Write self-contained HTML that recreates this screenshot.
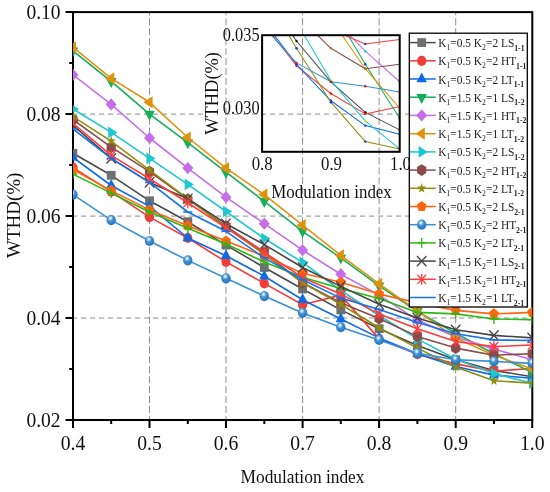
<!DOCTYPE html><html><head><meta charset="utf-8"><title>WTHD chart</title><style>html,body{margin:0;padding:0;background:#fff}svg{display:block}</style></head><body><svg width="550" height="492" viewBox="0 0 550 492" font-family="'Liberation Serif', serif" fill="#111">
<defs><radialGradient id="ball" cx="0.42" cy="0.32" r="0.62"><stop offset="0" stop-color="#ffffff"/><stop offset="0.16" stop-color="#c4e0f5"/><stop offset="0.45" stop-color="#4394d6"/><stop offset="1" stop-color="#2877bd"/></radialGradient>
<clipPath id="cm"><rect x="73.0" y="12.1" width="459.3" height="407.9"/></clipPath>
<clipPath id="ci"><rect x="262.1" y="35.2" width="137.6" height="116.6"/></clipPath></defs>
<rect width="550" height="492" fill="#fff"/>
<g stroke="#8f8f8f" stroke-width="1" fill="none"><path d="M149.5 420.0V12.1" stroke-dasharray="7 2.94" stroke-dashoffset="2.9"/><path d="M226.0 420.0V12.1" stroke-dasharray="7 2.94" stroke-dashoffset="2.9"/><path d="M302.6 420.0V12.1" stroke-dasharray="7 2.94" stroke-dashoffset="2.9"/><path d="M379.1 420.0V12.1" stroke-dasharray="7 2.94" stroke-dashoffset="2.9"/><path d="M455.7 420.0V12.1" stroke-dasharray="7 2.94" stroke-dashoffset="2.9"/><path d="M72.0 318.0H532.2" stroke-dasharray="5.2 3.8"/><path d="M72.0 216.1H532.2" stroke-dasharray="5.2 3.8"/><path d="M72.0 114.1H532.2" stroke-dasharray="5.2 3.8"/></g>
<g stroke="#000" stroke-width="2" fill="none">
<rect x="73.0" y="12.1" width="459.3" height="407.9"/>
<path d="M73.0 420.0V428.0M111.2 420.0V424.0M149.5 420.0V428.0M187.8 420.0V424.0M226.0 420.0V428.0M264.3 420.0V424.0M302.6 420.0V428.0M340.8 420.0V424.0M379.1 420.0V428.0M417.4 420.0V424.0M455.7 420.0V428.0M493.9 420.0V424.0M532.2 420.0V428.0M73.0 420.0H65.5M73.0 369.0H69.2M73.0 318.0H65.5M73.0 267.0H69.2M73.0 216.1H65.5M73.0 165.1H69.2M73.0 114.1H65.5M73.0 63.1H69.2M73.0 12.1H65.5"/>
</g>
<g clip-path="url(#cm)">
<polyline points="73.0,153.3 111.2,175.3 149.5,200.8 187.8,221.7 226.0,245.1 264.3,267.5 302.6,289.0 340.8,309.9 379.1,328.7 417.4,345.6 455.7,359.8 493.9,370.5 532.2,376.7" fill="none" stroke="#4a4a4a" stroke-width="1.6" stroke-linejoin="round"/>
<rect x="68.5" y="148.9" width="8.8" height="8.8" fill="#6f6f6f"/>
<rect x="106.8" y="170.9" width="8.8" height="8.8" fill="#6f6f6f"/>
<rect x="145.1" y="196.4" width="8.8" height="8.8" fill="#6f6f6f"/>
<rect x="183.4" y="217.3" width="8.8" height="8.8" fill="#6f6f6f"/>
<rect x="221.6" y="240.7" width="8.8" height="8.8" fill="#6f6f6f"/>
<rect x="259.9" y="263.1" width="8.8" height="8.8" fill="#6f6f6f"/>
<rect x="298.2" y="284.6" width="8.8" height="8.8" fill="#6f6f6f"/>
<rect x="336.4" y="305.5" width="8.8" height="8.8" fill="#6f6f6f"/>
<rect x="374.7" y="324.3" width="8.8" height="8.8" fill="#6f6f6f"/>
<rect x="413.0" y="341.2" width="8.8" height="8.8" fill="#6f6f6f"/>
<rect x="451.3" y="355.4" width="8.8" height="8.8" fill="#6f6f6f"/>
<rect x="489.5" y="366.1" width="8.8" height="8.8" fill="#6f6f6f"/>
<rect x="527.8" y="372.3" width="8.8" height="8.8" fill="#6f6f6f"/>
<polyline points="73.0,167.6 111.2,191.6 149.5,217.1 187.8,238.0 226.0,261.9 264.3,283.4 302.6,304.8 340.8,295.1 379.1,338.9 417.4,354.2 455.7,363.9 493.9,371.1 532.2,368.5" fill="none" stroke="#f23c38" stroke-width="1.6" stroke-linejoin="round"/>
<ellipse cx="73.0" cy="167.6" rx="4.6" ry="5.1" fill="#f23c38"/>
<ellipse cx="111.2" cy="191.6" rx="4.6" ry="5.1" fill="#f23c38"/>
<ellipse cx="149.5" cy="217.1" rx="4.6" ry="5.1" fill="#f23c38"/>
<ellipse cx="187.8" cy="238.0" rx="4.6" ry="5.1" fill="#f23c38"/>
<ellipse cx="226.0" cy="261.9" rx="4.6" ry="5.1" fill="#f23c38"/>
<ellipse cx="264.3" cy="283.4" rx="4.6" ry="5.1" fill="#f23c38"/>
<ellipse cx="302.6" cy="304.8" rx="4.6" ry="5.1" fill="#f23c38"/>
<ellipse cx="340.8" cy="295.1" rx="4.6" ry="5.1" fill="#f23c38"/>
<ellipse cx="379.1" cy="338.9" rx="4.6" ry="5.1" fill="#f23c38"/>
<ellipse cx="417.4" cy="354.2" rx="4.6" ry="5.1" fill="#f23c38"/>
<ellipse cx="455.7" cy="363.9" rx="4.6" ry="5.1" fill="#f23c38"/>
<ellipse cx="493.9" cy="371.1" rx="4.6" ry="5.1" fill="#f23c38"/>
<ellipse cx="532.2" cy="368.5" rx="4.6" ry="5.1" fill="#f23c38"/>
<polyline points="73.0,157.4 111.2,185.5 149.5,206.4 187.8,238.0 226.0,255.8 264.3,276.2 302.6,299.7 340.8,319.0 379.1,337.9 417.4,353.7 455.7,366.5 493.9,375.1 532.2,378.2" fill="none" stroke="#0f6ae6" stroke-width="1.6" stroke-linejoin="round"/>
<polygon points="67.8,160.7 78.2,160.7 73.0,150.9" fill="#0f6ae6"/>
<polygon points="106.0,188.7 116.4,188.7 111.2,178.9" fill="#0f6ae6"/>
<polygon points="144.3,209.6 154.7,209.6 149.5,199.8" fill="#0f6ae6"/>
<polygon points="182.6,241.2 193.0,241.2 187.8,231.4" fill="#0f6ae6"/>
<polygon points="220.8,259.1 231.2,259.1 226.0,249.3" fill="#0f6ae6"/>
<polygon points="259.1,279.5 269.5,279.5 264.3,269.7" fill="#0f6ae6"/>
<polygon points="297.4,302.9 307.8,302.9 302.6,293.1" fill="#0f6ae6"/>
<polygon points="335.6,322.3 346.0,322.3 340.8,312.5" fill="#0f6ae6"/>
<polygon points="373.9,341.2 384.3,341.2 379.1,331.4" fill="#0f6ae6"/>
<polygon points="412.2,357.0 422.6,357.0 417.4,347.2" fill="#0f6ae6"/>
<polygon points="450.5,369.7 460.9,369.7 455.7,359.9" fill="#0f6ae6"/>
<polygon points="488.7,378.4 499.1,378.4 493.9,368.6" fill="#0f6ae6"/>
<polygon points="527.0,381.5 537.4,381.5 532.2,371.7" fill="#0f6ae6"/>
<polyline points="73.0,50.9 111.2,81.4 149.5,114.1 187.8,142.6 226.0,172.2 264.3,201.3 302.6,231.3 340.8,257.9 379.1,285.9 417.4,311.4 455.7,333.3 493.9,353.7 532.2,372.6" fill="none" stroke="#14ae5c" stroke-width="1.6" stroke-linejoin="round"/>
<polygon points="67.7,47.5 78.2,47.5 73.0,57.5" fill="#14ae5c"/>
<polygon points="105.9,78.1 116.5,78.1 111.2,88.1" fill="#14ae5c"/>
<polygon points="144.2,110.7 154.8,110.7 149.5,120.7" fill="#14ae5c"/>
<polygon points="182.5,139.3 193.1,139.3 187.8,149.3" fill="#14ae5c"/>
<polygon points="220.7,168.9 231.3,168.9 226.0,178.9" fill="#14ae5c"/>
<polygon points="259.0,197.9 269.6,197.9 264.3,207.9" fill="#14ae5c"/>
<polygon points="297.3,228.0 307.9,228.0 302.6,238.0" fill="#14ae5c"/>
<polygon points="335.5,254.5 346.1,254.5 340.8,264.5" fill="#14ae5c"/>
<polygon points="373.8,282.6 384.4,282.6 379.1,292.6" fill="#14ae5c"/>
<polygon points="412.1,308.1 422.7,308.1 417.4,318.1" fill="#14ae5c"/>
<polygon points="450.4,330.0 461.0,330.0 455.7,340.0" fill="#14ae5c"/>
<polygon points="488.6,350.4 499.2,350.4 493.9,360.4" fill="#14ae5c"/>
<polygon points="526.9,369.2 537.5,369.2 532.2,379.2" fill="#14ae5c"/>
<polyline points="73.0,74.8 111.2,104.4 149.5,138.0 187.8,168.1 226.0,197.2 264.3,223.7 302.6,250.2 340.8,274.2 379.1,295.1 417.4,320.1 455.7,336.9 493.9,349.1 532.2,359.8" fill="none" stroke="#c46ee8" stroke-width="1.6" stroke-linejoin="round"/>
<polygon points="67.5,74.8 73.0,68.7 78.5,74.8 73.0,80.9" fill="#c46ee8"/>
<polygon points="105.7,104.4 111.2,98.3 116.7,104.4 111.2,110.5" fill="#c46ee8"/>
<polygon points="144.0,138.0 149.5,131.9 155.0,138.0 149.5,144.1" fill="#c46ee8"/>
<polygon points="182.3,168.1 187.8,162.0 193.3,168.1 187.8,174.2" fill="#c46ee8"/>
<polygon points="220.5,197.2 226.0,191.1 231.5,197.2 226.0,203.3" fill="#c46ee8"/>
<polygon points="258.8,223.7 264.3,217.6 269.8,223.7 264.3,229.8" fill="#c46ee8"/>
<polygon points="297.1,250.2 302.6,244.1 308.1,250.2 302.6,256.3" fill="#c46ee8"/>
<polygon points="335.3,274.2 340.8,268.1 346.3,274.2 340.8,280.3" fill="#c46ee8"/>
<polygon points="373.6,295.1 379.1,289.0 384.6,295.1 379.1,301.2" fill="#c46ee8"/>
<polygon points="411.9,320.1 417.4,314.0 422.9,320.1 417.4,326.2" fill="#c46ee8"/>
<polygon points="450.2,336.9 455.7,330.8 461.2,336.9 455.7,343.0" fill="#c46ee8"/>
<polygon points="488.4,349.1 493.9,343.0 499.4,349.1 493.9,355.2" fill="#c46ee8"/>
<polygon points="526.7,359.8 532.2,353.7 537.7,359.8 532.2,365.9" fill="#c46ee8"/>
<polyline points="73.0,47.3 111.2,78.4 149.5,102.3 187.8,137.5 226.0,168.1 264.3,194.6 302.6,225.2 340.8,255.3 379.1,283.9 417.4,310.9 455.7,337.9 493.9,355.2 532.2,369.0" fill="none" stroke="#e0920c" stroke-width="1.6" stroke-linejoin="round"/>
<polygon points="76.0,41.2 76.0,53.4 66.8,47.3" fill="#e0920c"/>
<polygon points="114.3,72.3 114.3,84.5 105.1,78.4" fill="#e0920c"/>
<polygon points="152.6,96.2 152.6,108.4 143.4,102.3" fill="#e0920c"/>
<polygon points="190.8,131.4 190.8,143.6 181.6,137.5" fill="#e0920c"/>
<polygon points="229.1,162.0 229.1,174.2 219.9,168.1" fill="#e0920c"/>
<polygon points="267.4,188.5 267.4,200.7 258.2,194.6" fill="#e0920c"/>
<polygon points="305.6,219.1 305.6,231.3 296.4,225.2" fill="#e0920c"/>
<polygon points="343.9,249.2 343.9,261.4 334.7,255.3" fill="#e0920c"/>
<polygon points="382.2,277.8 382.2,290.0 373.0,283.9" fill="#e0920c"/>
<polygon points="420.5,304.8 420.5,317.0 411.3,310.9" fill="#e0920c"/>
<polygon points="458.7,331.8 458.7,344.0 449.5,337.9" fill="#e0920c"/>
<polygon points="497.0,349.1 497.0,361.3 487.8,355.2" fill="#e0920c"/>
<polygon points="535.3,362.9 535.3,375.1 526.1,369.0" fill="#e0920c"/>
<polyline points="73.0,109.0 111.2,132.4 149.5,158.4 187.8,184.4 226.0,211.5 264.3,238.5 302.6,262.4 340.8,290.5 379.1,315.5 417.4,338.9 455.7,359.3 493.9,373.6 532.2,383.3" fill="none" stroke="#1ec8cc" stroke-width="1.6" stroke-linejoin="round"/>
<polygon points="69.9,103.2 69.9,114.8 79.1,109.0" fill="#1ec8cc"/>
<polygon points="108.2,126.6 108.2,138.2 117.4,132.4" fill="#1ec8cc"/>
<polygon points="146.4,152.6 146.4,164.2 155.6,158.4" fill="#1ec8cc"/>
<polygon points="184.7,178.6 184.7,190.2 193.9,184.4" fill="#1ec8cc"/>
<polygon points="223.0,205.7 223.0,217.3 232.2,211.5" fill="#1ec8cc"/>
<polygon points="261.2,232.7 261.2,244.3 270.4,238.5" fill="#1ec8cc"/>
<polygon points="299.5,256.6 299.5,268.2 308.7,262.4" fill="#1ec8cc"/>
<polygon points="337.8,284.7 337.8,296.3 347.0,290.5" fill="#1ec8cc"/>
<polygon points="376.1,309.7 376.1,321.3 385.3,315.5" fill="#1ec8cc"/>
<polygon points="414.3,333.1 414.3,344.7 423.5,338.9" fill="#1ec8cc"/>
<polygon points="452.6,353.5 452.6,365.1 461.8,359.3" fill="#1ec8cc"/>
<polygon points="490.9,367.8 490.9,379.4 500.1,373.6" fill="#1ec8cc"/>
<polygon points="529.1,377.5 529.1,389.1 538.3,383.3" fill="#1ec8cc"/>
<polyline points="73.0,119.7 111.2,147.2 149.5,171.7 187.8,199.2 226.0,226.2 264.3,252.3 302.6,282.8 340.8,302.7 379.1,318.5 417.4,336.4 455.7,348.1 493.9,355.2 532.2,353.7" fill="none" stroke="#8b4b4b" stroke-width="1.6" stroke-linejoin="round"/>
<polygon points="73.0,113.8 77.5,116.7 77.5,122.6 73.0,125.6 68.4,122.6 68.4,116.7" fill="#8b4b4b"/>
<polygon points="111.2,141.3 115.8,144.3 115.8,150.2 111.2,153.1 106.6,150.2 106.6,144.3" fill="#8b4b4b"/>
<polygon points="149.5,165.8 154.1,168.7 154.1,174.6 149.5,177.6 144.9,174.6 144.9,168.7" fill="#8b4b4b"/>
<polygon points="187.8,193.3 192.4,196.3 192.4,202.2 187.8,205.1 183.2,202.2 183.2,196.3" fill="#8b4b4b"/>
<polygon points="226.0,220.3 230.6,223.3 230.6,229.2 226.0,232.1 221.4,229.2 221.4,223.3" fill="#8b4b4b"/>
<polygon points="264.3,246.4 268.9,249.3 268.9,255.2 264.3,258.2 259.7,255.2 259.7,249.3" fill="#8b4b4b"/>
<polygon points="302.6,276.9 307.2,279.9 307.2,285.8 302.6,288.7 298.0,285.8 298.0,279.9" fill="#8b4b4b"/>
<polygon points="340.8,296.8 345.4,299.8 345.4,305.7 340.8,308.6 336.2,305.7 336.2,299.8" fill="#8b4b4b"/>
<polygon points="379.1,312.6 383.7,315.6 383.7,321.5 379.1,324.4 374.5,321.5 374.5,315.6" fill="#8b4b4b"/>
<polygon points="417.4,330.5 422.0,333.4 422.0,339.3 417.4,342.3 412.8,339.3 412.8,333.4" fill="#8b4b4b"/>
<polygon points="455.7,342.2 460.3,345.2 460.3,351.1 455.7,354.0 451.1,351.1 451.1,345.2" fill="#8b4b4b"/>
<polygon points="493.9,349.3 498.5,352.3 498.5,358.2 493.9,361.1 489.3,358.2 489.3,352.3" fill="#8b4b4b"/>
<polygon points="532.2,347.8 536.8,350.8 536.8,356.7 532.2,359.6 527.6,356.7 527.6,350.8" fill="#8b4b4b"/>
<polyline points="73.0,116.6 111.2,141.1 149.5,170.2 187.8,198.7 226.0,227.3 264.3,254.3 302.6,282.8 340.8,304.3 379.1,327.7 417.4,348.1 455.7,367.0 493.9,380.7 532.2,383.3" fill="none" stroke="#8f8c0c" stroke-width="1.6" stroke-linejoin="round"/>
<polygon points="73.0,111.2 74.1,114.8 77.4,115.0 74.8,117.3 75.7,121.0 73.0,118.8 70.2,121.0 71.1,117.3 68.5,115.0 71.8,114.8" fill="#8f8c0c"/>
<polygon points="111.2,135.7 112.3,139.3 115.7,139.4 113.0,141.8 114.0,145.5 111.2,143.3 108.5,145.5 109.4,141.8 106.8,139.4 110.1,139.3" fill="#8f8c0c"/>
<polygon points="149.5,164.8 150.6,168.4 154.0,168.5 151.3,170.8 152.3,174.5 149.5,172.4 146.7,174.5 147.7,170.8 145.0,168.5 148.4,168.4" fill="#8f8c0c"/>
<polygon points="187.8,193.3 188.9,196.9 192.2,197.0 189.6,199.4 190.5,203.1 187.8,200.9 185.0,203.1 185.9,199.4 183.3,197.0 186.6,196.9" fill="#8f8c0c"/>
<polygon points="226.0,221.9 227.2,225.5 230.5,225.6 227.9,227.9 228.8,231.6 226.0,229.5 223.3,231.6 224.2,227.9 221.6,225.6 224.9,225.5" fill="#8f8c0c"/>
<polygon points="264.3,248.9 265.4,252.5 268.8,252.6 266.1,255.0 267.1,258.7 264.3,256.5 261.5,258.7 262.5,255.0 259.8,252.6 263.2,252.5" fill="#8f8c0c"/>
<polygon points="302.6,277.4 303.7,281.1 307.0,281.2 304.4,283.5 305.3,287.2 302.6,285.0 299.8,287.2 300.8,283.5 298.1,281.2 301.4,281.1" fill="#8f8c0c"/>
<polygon points="340.8,298.9 342.0,302.5 345.3,302.6 342.7,304.9 343.6,308.6 340.8,306.5 338.1,308.6 339.0,304.9 336.4,302.6 339.7,302.5" fill="#8f8c0c"/>
<polygon points="379.1,322.3 380.2,325.9 383.6,326.0 380.9,328.4 381.9,332.1 379.1,329.9 376.4,332.1 377.3,328.4 374.6,326.0 378.0,325.9" fill="#8f8c0c"/>
<polygon points="417.4,342.7 418.5,346.3 421.9,346.4 419.2,348.8 420.1,352.5 417.4,350.3 414.6,352.5 415.6,348.8 412.9,346.4 416.3,346.3" fill="#8f8c0c"/>
<polygon points="455.7,361.6 456.8,365.2 460.1,365.3 457.5,367.7 458.4,371.3 455.7,369.2 452.9,371.3 453.8,367.7 451.2,365.3 454.5,365.2" fill="#8f8c0c"/>
<polygon points="493.9,375.3 495.1,379.0 498.4,379.1 495.7,381.4 496.7,385.1 493.9,382.9 491.2,385.1 492.1,381.4 489.5,379.1 492.8,379.0" fill="#8f8c0c"/>
<polygon points="532.2,377.9 533.3,381.5 536.7,381.6 534.0,384.0 535.0,387.7 532.2,385.5 529.4,387.7 530.4,384.0 527.7,381.6 531.1,381.5" fill="#8f8c0c"/>
<polyline points="73.0,169.7 111.2,190.6 149.5,209.9 187.8,225.7 226.0,241.0 264.3,256.3 302.6,273.2 340.8,282.3 379.1,294.1 417.4,302.7 455.7,310.4 493.9,313.9 532.2,312.4" fill="none" stroke="#ff640f" stroke-width="1.6" stroke-linejoin="round"/>
<polygon points="73.0,164.1 77.8,167.9 76.0,174.2 69.9,174.2 68.1,167.9" fill="#ff640f"/>
<polygon points="111.2,185.0 116.1,188.8 114.2,195.1 108.2,195.1 106.3,188.8" fill="#ff640f"/>
<polygon points="149.5,204.3 154.4,208.2 152.5,214.5 146.5,214.5 144.6,208.2" fill="#ff640f"/>
<polygon points="187.8,220.1 192.7,224.0 190.8,230.3 184.7,230.3 182.9,224.0" fill="#ff640f"/>
<polygon points="226.0,235.4 230.9,239.3 229.1,245.6 223.0,245.6 221.1,239.3" fill="#ff640f"/>
<polygon points="264.3,250.7 269.2,254.6 267.3,260.9 261.3,260.9 259.4,254.6" fill="#ff640f"/>
<polygon points="302.6,267.6 307.5,271.4 305.6,277.7 299.6,277.7 297.7,271.4" fill="#ff640f"/>
<polygon points="340.8,276.7 345.7,280.6 343.9,286.9 337.8,286.9 336.0,280.6" fill="#ff640f"/>
<polygon points="379.1,288.5 384.0,292.3 382.1,298.6 376.1,298.6 374.2,292.3" fill="#ff640f"/>
<polygon points="417.4,297.1 422.3,301.0 420.4,307.3 414.4,307.3 412.5,301.0" fill="#ff640f"/>
<polygon points="455.7,304.8 460.5,308.6 458.7,314.9 452.6,314.9 450.8,308.6" fill="#ff640f"/>
<polygon points="493.9,308.3 498.8,312.2 497.0,318.5 490.9,318.5 489.0,312.2" fill="#ff640f"/>
<polygon points="532.2,306.8 537.1,310.7 535.2,316.9 529.2,316.9 527.3,310.7" fill="#ff640f"/>
<polyline points="73.0,194.6 111.2,220.1 149.5,241.0 187.8,260.4 226.0,278.3 264.3,296.1 302.6,312.9 340.8,327.2 379.1,339.9 417.4,353.2 455.7,359.8 493.9,361.4 532.2,363.4" fill="none" stroke="#3590dc" stroke-width="1.6" stroke-linejoin="round"/>
<ellipse cx="73.0" cy="194.6" rx="4.7" ry="5.1" fill="url(#ball)"/>
<ellipse cx="111.2" cy="220.1" rx="4.7" ry="5.1" fill="url(#ball)"/>
<ellipse cx="149.5" cy="241.0" rx="4.7" ry="5.1" fill="url(#ball)"/>
<ellipse cx="187.8" cy="260.4" rx="4.7" ry="5.1" fill="url(#ball)"/>
<ellipse cx="226.0" cy="278.3" rx="4.7" ry="5.1" fill="url(#ball)"/>
<ellipse cx="264.3" cy="296.1" rx="4.7" ry="5.1" fill="url(#ball)"/>
<ellipse cx="302.6" cy="312.9" rx="4.7" ry="5.1" fill="url(#ball)"/>
<ellipse cx="340.8" cy="327.2" rx="4.7" ry="5.1" fill="url(#ball)"/>
<ellipse cx="379.1" cy="339.9" rx="4.7" ry="5.1" fill="url(#ball)"/>
<ellipse cx="417.4" cy="353.2" rx="4.7" ry="5.1" fill="url(#ball)"/>
<ellipse cx="455.7" cy="359.8" rx="4.7" ry="5.1" fill="url(#ball)"/>
<ellipse cx="493.9" cy="361.4" rx="4.7" ry="5.1" fill="url(#ball)"/>
<ellipse cx="532.2" cy="363.4" rx="4.7" ry="5.1" fill="url(#ball)"/>
<polyline points="73.0,174.2 111.2,193.1 149.5,212.0 187.8,228.3 226.0,244.1 264.3,261.9 302.6,277.2 340.8,288.5 379.1,298.6 417.4,312.4 455.7,313.9 493.9,319.0 532.2,319.6" fill="none" stroke="#2db814" stroke-width="1.6" stroke-linejoin="round"/>
<path d="M73.0 169.3V179.1M68.4 174.2H77.5" stroke="#2db814" stroke-width="1.3" fill="none"/>
<path d="M111.2 188.2V198.0M106.6 193.1H115.8" stroke="#2db814" stroke-width="1.3" fill="none"/>
<path d="M149.5 207.1V216.9M144.9 212.0H154.1" stroke="#2db814" stroke-width="1.3" fill="none"/>
<path d="M187.8 223.4V233.2M183.2 228.3H192.4" stroke="#2db814" stroke-width="1.3" fill="none"/>
<path d="M226.0 239.2V249.0M221.4 244.1H230.6" stroke="#2db814" stroke-width="1.3" fill="none"/>
<path d="M264.3 257.0V266.8M259.7 261.9H268.9" stroke="#2db814" stroke-width="1.3" fill="none"/>
<path d="M302.6 272.3V282.1M298.0 277.2H307.2" stroke="#2db814" stroke-width="1.3" fill="none"/>
<path d="M340.8 283.6V293.4M336.2 288.5H345.4" stroke="#2db814" stroke-width="1.3" fill="none"/>
<path d="M379.1 293.7V303.5M374.5 298.6H383.7" stroke="#2db814" stroke-width="1.3" fill="none"/>
<path d="M417.4 307.5V317.3M412.8 312.4H422.0" stroke="#2db814" stroke-width="1.3" fill="none"/>
<path d="M455.7 309.0V318.8M451.1 313.9H460.3" stroke="#2db814" stroke-width="1.3" fill="none"/>
<path d="M493.9 314.1V323.9M489.3 319.0H498.5" stroke="#2db814" stroke-width="1.3" fill="none"/>
<path d="M532.2 314.7V324.5M527.6 319.6H536.8" stroke="#2db814" stroke-width="1.3" fill="none"/>
<polyline points="73.0,125.3 111.2,158.4 149.5,182.4 187.8,198.7 226.0,223.7 264.3,244.6 302.6,267.5 340.8,286.4 379.1,304.3 417.4,318.0 455.7,329.8 493.9,335.4 532.2,337.9" fill="none" stroke="#454545" stroke-width="1.6" stroke-linejoin="round"/>
<path d="M68.2 120.2L77.7 130.4M68.2 130.4L77.7 120.2" stroke="#454545" stroke-width="1.3" fill="none"/>
<path d="M106.5 153.3L115.9 163.5M106.5 163.5L115.9 153.3" stroke="#454545" stroke-width="1.3" fill="none"/>
<path d="M144.8 177.3L154.2 187.5M144.8 187.5L154.2 177.3" stroke="#454545" stroke-width="1.3" fill="none"/>
<path d="M183.1 193.6L192.5 203.8M183.1 203.8L192.5 193.6" stroke="#454545" stroke-width="1.3" fill="none"/>
<path d="M221.3 218.6L230.7 228.8M221.3 228.8L230.7 218.6" stroke="#454545" stroke-width="1.3" fill="none"/>
<path d="M259.6 239.5L269.0 249.7M259.6 249.7L269.0 239.5" stroke="#454545" stroke-width="1.3" fill="none"/>
<path d="M297.9 262.4L307.3 272.6M297.9 272.6L307.3 262.4" stroke="#454545" stroke-width="1.3" fill="none"/>
<path d="M336.1 281.3L345.5 291.5M336.1 291.5L345.5 281.3" stroke="#454545" stroke-width="1.3" fill="none"/>
<path d="M374.4 299.2L383.8 309.4M374.4 309.4L383.8 299.2" stroke="#454545" stroke-width="1.3" fill="none"/>
<path d="M412.7 312.9L422.1 323.1M412.7 323.1L422.1 312.9" stroke="#454545" stroke-width="1.3" fill="none"/>
<path d="M451.0 324.7L460.4 334.9M451.0 334.9L460.4 324.7" stroke="#454545" stroke-width="1.3" fill="none"/>
<path d="M489.2 330.3L498.6 340.5M489.2 340.5L498.6 330.3" stroke="#454545" stroke-width="1.3" fill="none"/>
<path d="M527.5 332.8L536.9 343.0M527.5 343.0L536.9 332.8" stroke="#454545" stroke-width="1.3" fill="none"/>
<polyline points="73.0,123.3 111.2,155.4 149.5,178.8 187.8,202.8 226.0,227.8 264.3,252.3 302.6,277.7 340.8,294.1 379.1,313.9 417.4,328.7 455.7,341.5 493.9,346.6 532.2,345.0" fill="none" stroke="#ff3c3c" stroke-width="1.6" stroke-linejoin="round"/>
<path d="M68.5 118.7L77.4 127.9M68.5 127.9L77.4 118.7M73.0 117.8V128.8" stroke="#ff3c3c" stroke-width="1.3" fill="none"/>
<path d="M106.8 150.8L115.6 160.0M106.8 160.0L115.6 150.8M111.2 149.9V160.9" stroke="#ff3c3c" stroke-width="1.3" fill="none"/>
<path d="M145.1 174.2L153.9 183.4M145.1 183.4L153.9 174.2M149.5 173.3V184.3" stroke="#ff3c3c" stroke-width="1.3" fill="none"/>
<path d="M183.4 198.2L192.2 207.4M183.4 207.4L192.2 198.2M187.8 197.3V208.3" stroke="#ff3c3c" stroke-width="1.3" fill="none"/>
<path d="M221.6 223.2L230.4 232.4M221.6 232.4L230.4 223.2M226.0 222.3V233.3" stroke="#ff3c3c" stroke-width="1.3" fill="none"/>
<path d="M259.9 247.7L268.7 256.9M259.9 256.9L268.7 247.7M264.3 246.8V257.8" stroke="#ff3c3c" stroke-width="1.3" fill="none"/>
<path d="M298.2 273.1L307.0 282.3M298.2 282.3L307.0 273.1M302.6 272.2V283.2" stroke="#ff3c3c" stroke-width="1.3" fill="none"/>
<path d="M336.4 289.5L345.2 298.7M336.4 298.7L345.2 289.5M340.8 288.6V299.6" stroke="#ff3c3c" stroke-width="1.3" fill="none"/>
<path d="M374.7 309.3L383.5 318.5M374.7 318.5L383.5 309.3M379.1 308.4V319.4" stroke="#ff3c3c" stroke-width="1.3" fill="none"/>
<path d="M413.0 324.1L421.8 333.3M413.0 333.3L421.8 324.1M417.4 323.2V334.2" stroke="#ff3c3c" stroke-width="1.3" fill="none"/>
<path d="M451.3 336.9L460.1 346.1M451.3 346.1L460.1 336.9M455.7 336.0V347.0" stroke="#ff3c3c" stroke-width="1.3" fill="none"/>
<path d="M489.5 342.0L498.3 351.2M489.5 351.2L498.3 342.0M493.9 341.1V352.1" stroke="#ff3c3c" stroke-width="1.3" fill="none"/>
<path d="M527.8 340.4L536.6 349.6M527.8 349.6L536.6 340.4M532.2 339.5V350.5" stroke="#ff3c3c" stroke-width="1.3" fill="none"/>
<polyline points="73.0,128.9 111.2,158.4 149.5,182.4 187.8,212.0 226.0,231.3 264.3,257.9 302.6,279.8 340.8,298.1 379.1,309.4 417.4,322.6 455.7,333.8 493.9,339.9 532.2,340.5" fill="none" stroke="#1473f0" stroke-width="1.6" stroke-linejoin="round"/>
<path d="M68.5 128.9H77.5" stroke="#1473f0" stroke-width="1.4" fill="none"/>
<path d="M106.7 158.4H115.7" stroke="#1473f0" stroke-width="1.4" fill="none"/>
<path d="M145.0 182.4H154.0" stroke="#1473f0" stroke-width="1.4" fill="none"/>
<path d="M183.3 212.0H192.3" stroke="#1473f0" stroke-width="1.4" fill="none"/>
<path d="M221.5 231.3H230.5" stroke="#1473f0" stroke-width="1.4" fill="none"/>
<path d="M259.8 257.9H268.8" stroke="#1473f0" stroke-width="1.4" fill="none"/>
<path d="M298.1 279.8H307.1" stroke="#1473f0" stroke-width="1.4" fill="none"/>
<path d="M336.3 298.1H345.3" stroke="#1473f0" stroke-width="1.4" fill="none"/>
<path d="M374.6 309.4H383.6" stroke="#1473f0" stroke-width="1.4" fill="none"/>
<path d="M412.9 322.6H421.9" stroke="#1473f0" stroke-width="1.4" fill="none"/>
<path d="M451.2 333.8H460.2" stroke="#1473f0" stroke-width="1.4" fill="none"/>
<path d="M489.4 339.9H498.4" stroke="#1473f0" stroke-width="1.4" fill="none"/>
<path d="M527.7 340.5H536.7" stroke="#1473f0" stroke-width="1.4" fill="none"/>
</g>
<text transform="translate(73.0 450.0) scale(0.920 1)" font-size="21.4" text-anchor="middle">0.4</text>
<text transform="translate(149.5 450.0) scale(0.920 1)" font-size="21.4" text-anchor="middle">0.5</text>
<text transform="translate(226.0 450.0) scale(0.920 1)" font-size="21.4" text-anchor="middle">0.6</text>
<text transform="translate(302.6 450.0) scale(0.920 1)" font-size="21.4" text-anchor="middle">0.7</text>
<text transform="translate(379.1 450.0) scale(0.920 1)" font-size="21.4" text-anchor="middle">0.8</text>
<text transform="translate(455.7 450.0) scale(0.920 1)" font-size="21.4" text-anchor="middle">0.9</text>
<text transform="translate(532.2 450.0) scale(0.920 1)" font-size="21.4" text-anchor="middle">1.0</text>
<text transform="translate(60.6 427.1) scale(0.930 1)" font-size="21.0" text-anchor="end">0.02</text>
<text transform="translate(60.6 325.1) scale(0.930 1)" font-size="21.0" text-anchor="end">0.04</text>
<text transform="translate(60.6 223.2) scale(0.930 1)" font-size="21.0" text-anchor="end">0.06</text>
<text transform="translate(60.6 121.2) scale(0.930 1)" font-size="21.0" text-anchor="end">0.08</text>
<text transform="translate(60.6 19.2) scale(0.930 1)" font-size="21.0" text-anchor="end">0.10</text>
<text transform="translate(302.5 482.8) scale(0.905 1)" font-size="19.2" text-anchor="middle">Modulation index</text>
<text transform="translate(20.4 215.3) rotate(-90)" font-size="19" text-anchor="middle">WTHD(%)</text>
<rect x="203" y="50" width="18.5" height="88" fill="#fff"/>
<g clip-path="url(#ci)">
<polyline points="193.3,-120.8 227.7,-61.0 262.1,-7.1 296.5,41.0 330.9,81.8 365.3,112.4 399.7,129.9" fill="none" stroke="#4a4a4a" stroke-width="1.05" stroke-linejoin="round"/>
<circle cx="262.1" cy="-7.1" r="1.2" fill="#111"/>
<circle cx="296.5" cy="41.0" r="1.2" fill="#111"/>
<circle cx="330.9" cy="81.8" r="1.2" fill="#111"/>
<circle cx="365.3" cy="112.4" r="1.2" fill="#111"/>
<circle cx="399.7" cy="129.9" r="1.2" fill="#111"/>
<polyline points="193.3,-75.6 227.7,-103.3 262.1,22.1 296.5,65.8 330.9,93.5 365.3,113.9 399.7,106.6" fill="none" stroke="#f23c38" stroke-width="1.05" stroke-linejoin="round"/>
<circle cx="262.1" cy="22.1" r="1.2" fill="#e11"/>
<circle cx="296.5" cy="65.8" r="1.2" fill="#e11"/>
<circle cx="330.9" cy="93.5" r="1.2" fill="#e11"/>
<circle cx="365.3" cy="113.9" r="1.2" fill="#e11"/>
<circle cx="399.7" cy="106.6" r="1.2" fill="#e11"/>
<polyline points="193.3,-90.1 227.7,-34.8 262.1,19.2 296.5,64.3 330.9,100.8 365.3,125.6 399.7,134.3" fill="none" stroke="#0f6ae6" stroke-width="1.05" stroke-linejoin="round"/>
<circle cx="262.1" cy="19.2" r="1.2" fill="#1133cc"/>
<circle cx="296.5" cy="64.3" r="1.2" fill="#1133cc"/>
<circle cx="330.9" cy="100.8" r="1.2" fill="#1133cc"/>
<circle cx="365.3" cy="125.6" r="1.2" fill="#1133cc"/>
<circle cx="399.7" cy="134.3" r="1.2" fill="#1133cc"/>
<polyline points="193.3,-285.5 227.7,-209.7 262.1,-129.5 296.5,-56.6 330.9,6.1 365.3,64.3 399.7,118.3" fill="none" stroke="#14ae5c" stroke-width="1.05" stroke-linejoin="round"/>
<circle cx="262.1" cy="-129.5" r="1.2" fill="#1133cc"/>
<circle cx="296.5" cy="-56.6" r="1.2" fill="#1133cc"/>
<circle cx="330.9" cy="6.1" r="1.2" fill="#1133cc"/>
<circle cx="365.3" cy="64.3" r="1.2" fill="#1133cc"/>
<circle cx="399.7" cy="118.3" r="1.2" fill="#1133cc"/>
<polyline points="193.3,-231.5 227.7,-163.0 262.1,-103.3 296.5,-31.8 330.9,16.3 365.3,51.2 399.7,81.8" fill="none" stroke="#c46ee8" stroke-width="1.05" stroke-linejoin="round"/>
<circle cx="262.1" cy="-103.3" r="1.2" fill="#1cc"/>
<circle cx="296.5" cy="-31.8" r="1.2" fill="#1cc"/>
<circle cx="330.9" cy="16.3" r="1.2" fill="#1cc"/>
<circle cx="365.3" cy="51.2" r="1.2" fill="#1cc"/>
<circle cx="399.7" cy="81.8" r="1.2" fill="#1cc"/>
<polyline points="193.3,-302.9 227.7,-216.9 262.1,-135.3 296.5,-58.1 330.9,19.2 365.3,68.7 399.7,108.1" fill="none" stroke="#e0920c" stroke-width="1.05" stroke-linejoin="round"/>
<circle cx="262.1" cy="-135.3" r="1.2" fill="#880"/>
<circle cx="296.5" cy="-58.1" r="1.2" fill="#880"/>
<circle cx="330.9" cy="19.2" r="1.2" fill="#880"/>
<circle cx="365.3" cy="68.7" r="1.2" fill="#880"/>
<circle cx="399.7" cy="108.1" r="1.2" fill="#880"/>
<polyline points="193.3,-196.5 227.7,-116.4 262.1,-45.0 296.5,22.1 330.9,80.4 365.3,121.2 399.7,148.9" fill="none" stroke="#1ec8cc" stroke-width="1.05" stroke-linejoin="round"/>
<circle cx="262.1" cy="-45.0" r="1.2" fill="#dd2"/>
<circle cx="296.5" cy="22.1" r="1.2" fill="#dd2"/>
<circle cx="330.9" cy="80.4" r="1.2" fill="#dd2"/>
<circle cx="365.3" cy="121.2" r="1.2" fill="#dd2"/>
<circle cx="399.7" cy="148.9" r="1.2" fill="#dd2"/>
<polyline points="193.3,-138.2 227.7,-81.4 262.1,-36.2 296.5,14.8 330.9,48.3 365.3,68.7 399.7,64.3" fill="none" stroke="#8b4b4b" stroke-width="1.05" stroke-linejoin="round"/>
<circle cx="262.1" cy="-36.2" r="1.2" fill="#880"/>
<circle cx="296.5" cy="14.8" r="1.2" fill="#880"/>
<circle cx="330.9" cy="48.3" r="1.2" fill="#880"/>
<circle cx="365.3" cy="68.7" r="1.2" fill="#880"/>
<circle cx="399.7" cy="64.3" r="1.2" fill="#880"/>
<polyline points="193.3,-138.2 227.7,-77.0 262.1,-10.0 296.5,48.3 330.9,102.2 365.3,141.6 399.7,148.9" fill="none" stroke="#8f8c0c" stroke-width="1.05" stroke-linejoin="round"/>
<circle cx="262.1" cy="-10.0" r="1.2" fill="#1133cc"/>
<circle cx="296.5" cy="48.3" r="1.2" fill="#1133cc"/>
<circle cx="330.9" cy="102.2" r="1.2" fill="#1133cc"/>
<circle cx="365.3" cy="141.6" r="1.2" fill="#1133cc"/>
<circle cx="399.7" cy="148.9" r="1.2" fill="#1133cc"/>
<polyline points="193.3,-165.9 227.7,-139.7 262.1,-106.2 296.5,-81.4 330.9,-59.5 365.3,-49.3 399.7,-53.7" fill="none" stroke="#ff640f" stroke-width="1.05" stroke-linejoin="round"/>
<circle cx="262.1" cy="-106.2" r="1.2" fill="#f60"/>
<circle cx="296.5" cy="-81.4" r="1.2" fill="#f60"/>
<circle cx="330.9" cy="-59.5" r="1.2" fill="#f60"/>
<circle cx="365.3" cy="-49.3" r="1.2" fill="#f60"/>
<circle cx="399.7" cy="-53.7" r="1.2" fill="#f60"/>
<polyline points="193.3,-52.3 227.7,-11.4 262.1,25.0 296.5,62.9 330.9,81.8 365.3,86.2 399.7,92.0" fill="none" stroke="#3590dc" stroke-width="1.05" stroke-linejoin="round"/>
<circle cx="262.1" cy="25.0" r="1.2" fill="#d11"/>
<circle cx="296.5" cy="62.9" r="1.2" fill="#d11"/>
<circle cx="330.9" cy="81.8" r="1.2" fill="#d11"/>
<circle cx="365.3" cy="86.2" r="1.2" fill="#d11"/>
<circle cx="399.7" cy="92.0" r="1.2" fill="#d11"/>
<polyline points="193.3,-154.3 227.7,-122.2 262.1,-93.1 296.5,-53.7 330.9,-49.3 365.3,-34.8 399.7,-33.3" fill="none" stroke="#2db814" stroke-width="1.05" stroke-linejoin="round"/>
<circle cx="262.1" cy="-93.1" r="1.2" fill="#0c0"/>
<circle cx="296.5" cy="-53.7" r="1.2" fill="#0c0"/>
<circle cx="330.9" cy="-49.3" r="1.2" fill="#0c0"/>
<circle cx="365.3" cy="-34.8" r="1.2" fill="#0c0"/>
<circle cx="399.7" cy="-33.3" r="1.2" fill="#0c0"/>
<polyline points="193.3,-182.0 227.7,-128.0 262.1,-77.0 296.5,-37.7 330.9,-4.2 365.3,11.9 399.7,19.2" fill="none" stroke="#454545" stroke-width="1.05" stroke-linejoin="round"/>
<circle cx="262.1" cy="-77.0" r="1.2" fill="#333"/>
<circle cx="296.5" cy="-37.7" r="1.2" fill="#333"/>
<circle cx="330.9" cy="-4.2" r="1.2" fill="#333"/>
<circle cx="365.3" cy="11.9" r="1.2" fill="#333"/>
<circle cx="399.7" cy="19.2" r="1.2" fill="#333"/>
<polyline points="193.3,-152.8 227.7,-106.2 262.1,-49.3 296.5,-7.1 330.9,29.4 365.3,43.9 399.7,39.6" fill="none" stroke="#ff3c3c" stroke-width="1.05" stroke-linejoin="round"/>
<circle cx="262.1" cy="-49.3" r="1.2" fill="#1133cc"/>
<circle cx="296.5" cy="-7.1" r="1.2" fill="#1133cc"/>
<circle cx="330.9" cy="29.4" r="1.2" fill="#1133cc"/>
<circle cx="365.3" cy="43.9" r="1.2" fill="#1133cc"/>
<circle cx="399.7" cy="39.6" r="1.2" fill="#1133cc"/>
<polyline points="193.3,-147.0 227.7,-94.5 262.1,-62.5 296.5,-24.6 330.9,7.5 365.3,25.0 399.7,26.5" fill="none" stroke="#1473f0" stroke-width="1.05" stroke-linejoin="round"/>
<circle cx="262.1" cy="-62.5" r="1.2" fill="#00f"/>
<circle cx="296.5" cy="-24.6" r="1.2" fill="#00f"/>
<circle cx="330.9" cy="7.5" r="1.2" fill="#00f"/>
<circle cx="365.3" cy="25.0" r="1.2" fill="#00f"/>
<circle cx="399.7" cy="26.5" r="1.2" fill="#00f"/>
</g>
<rect x="262.1" y="35.2" width="137.6" height="116.6" fill="none" stroke="#000" stroke-width="2"/>
<text transform="translate(259.6 41.2) scale(0.860 1)" font-size="19.0" text-anchor="end">0.035</text>
<text transform="translate(259.6 114.3) scale(0.860 1)" font-size="19.0" text-anchor="end">0.030</text>
<text transform="translate(262.2 169.8) scale(0.870 1)" font-size="19.3" text-anchor="middle">0.8</text>
<text transform="translate(331.5 169.8) scale(0.870 1)" font-size="19.3" text-anchor="middle">0.9</text>
<text transform="translate(400.5 169.8) scale(0.870 1)" font-size="19.3" text-anchor="middle">1.0</text>
<text transform="translate(331.5 197.5) scale(0.890 1)" font-size="19.0" text-anchor="middle">Modulation index</text>
<text transform="translate(218.4 93.4) rotate(-90)" font-size="18.4" text-anchor="middle">WTHD(%)</text>
<rect x="409.3" y="33.2" width="118.0" height="273.8" fill="#fff" stroke="#000" stroke-width="1.3"/>
<path d="M409.9 42.6H435.7" stroke="#4a4a4a" stroke-width="1.5"/>
<rect x="417.3" y="38.2" width="8.8" height="8.8" fill="#6f6f6f"/>
<text transform="translate(438.2 47.1) scale(0.935 1)" font-size="12.2" fill="#222">K<tspan font-size="8.3" dy="3">1</tspan><tspan dy="-3">=0.5 K</tspan><tspan font-size="8.3" dy="3">2</tspan><tspan dy="-3">=2 LS</tspan><tspan font-size="8.3" font-weight="bold" dy="3.5">1-1</tspan></text>
<path d="M409.9 60.8H435.7" stroke="#f23c38" stroke-width="1.5"/>
<ellipse cx="421.7" cy="60.8" rx="4.6" ry="5.1" fill="#f23c38"/>
<text transform="translate(438.2 65.3) scale(0.935 1)" font-size="12.2" fill="#222">K<tspan font-size="8.3" dy="3">1</tspan><tspan dy="-3">=0.5 K</tspan><tspan font-size="8.3" dy="3">2</tspan><tspan dy="-3">=2 HT</tspan><tspan font-size="8.3" font-weight="bold" dy="3.5">1-1</tspan></text>
<path d="M409.9 79.0H435.7" stroke="#0f6ae6" stroke-width="1.5"/>
<polygon points="416.5,82.3 426.9,82.3 421.7,72.5" fill="#0f6ae6"/>
<text transform="translate(438.2 83.5) scale(0.935 1)" font-size="12.2" fill="#222">K<tspan font-size="8.3" dy="3">1</tspan><tspan dy="-3">=0.5 K</tspan><tspan font-size="8.3" dy="3">2</tspan><tspan dy="-3">=2 LT</tspan><tspan font-size="8.3" font-weight="bold" dy="3.5">1-1</tspan></text>
<path d="M409.9 97.2H435.7" stroke="#14ae5c" stroke-width="1.5"/>
<polygon points="416.4,93.9 427.0,93.9 421.7,103.9" fill="#14ae5c"/>
<text transform="translate(438.2 101.7) scale(0.935 1)" font-size="12.2" fill="#222">K<tspan font-size="8.3" dy="3">1</tspan><tspan dy="-3">=1.5 K</tspan><tspan font-size="8.3" dy="3">2</tspan><tspan dy="-3">=1 LS</tspan><tspan font-size="8.3" font-weight="bold" dy="3.5">1-2</tspan></text>
<path d="M409.9 115.4H435.7" stroke="#c46ee8" stroke-width="1.5"/>
<polygon points="416.2,115.4 421.7,109.3 427.2,115.4 421.7,121.5" fill="#c46ee8"/>
<text transform="translate(438.2 119.9) scale(0.935 1)" font-size="12.2" fill="#222">K<tspan font-size="8.3" dy="3">1</tspan><tspan dy="-3">=1.5 K</tspan><tspan font-size="8.3" dy="3">2</tspan><tspan dy="-3">=1 HT</tspan><tspan font-size="8.3" font-weight="bold" dy="3.5">1-2</tspan></text>
<path d="M409.9 133.7H435.7" stroke="#e0920c" stroke-width="1.5"/>
<polygon points="424.8,127.6 424.8,139.8 415.6,133.7" fill="#e0920c"/>
<text transform="translate(438.2 138.2) scale(0.935 1)" font-size="12.2" fill="#222">K<tspan font-size="8.3" dy="3">1</tspan><tspan dy="-3">=1.5 K</tspan><tspan font-size="8.3" dy="3">2</tspan><tspan dy="-3">=1 LT</tspan><tspan font-size="8.3" font-weight="bold" dy="3.5">1-2</tspan></text>
<path d="M409.9 151.9H435.7" stroke="#1ec8cc" stroke-width="1.5"/>
<polygon points="418.6,146.1 418.6,157.7 427.8,151.9" fill="#1ec8cc"/>
<text transform="translate(438.2 156.4) scale(0.935 1)" font-size="12.2" fill="#222">K<tspan font-size="8.3" dy="3">1</tspan><tspan dy="-3">=0.5 K</tspan><tspan font-size="8.3" dy="3">2</tspan><tspan dy="-3">=2 LS</tspan><tspan font-size="8.3" font-weight="bold" dy="3.5">1-2</tspan></text>
<path d="M409.9 170.1H435.7" stroke="#8b4b4b" stroke-width="1.5"/>
<polygon points="421.7,164.2 426.3,167.1 426.3,173.0 421.7,176.0 417.1,173.0 417.1,167.1" fill="#8b4b4b"/>
<text transform="translate(438.2 174.6) scale(0.935 1)" font-size="12.2" fill="#222">K<tspan font-size="8.3" dy="3">1</tspan><tspan dy="-3">=0.5 K</tspan><tspan font-size="8.3" dy="3">2</tspan><tspan dy="-3">=2 HT</tspan><tspan font-size="8.3" font-weight="bold" dy="3.5">1-2</tspan></text>
<path d="M409.9 188.3H435.7" stroke="#8f8c0c" stroke-width="1.5"/>
<polygon points="421.7,182.9 422.8,186.5 426.2,186.6 423.5,189.0 424.5,192.6 421.7,190.5 418.9,192.6 419.9,189.0 417.2,186.6 420.6,186.5" fill="#8f8c0c"/>
<text transform="translate(438.2 192.8) scale(0.935 1)" font-size="12.2" fill="#222">K<tspan font-size="8.3" dy="3">1</tspan><tspan dy="-3">=0.5 K</tspan><tspan font-size="8.3" dy="3">2</tspan><tspan dy="-3">=2 LT</tspan><tspan font-size="8.3" font-weight="bold" dy="3.5">1-2</tspan></text>
<path d="M409.9 206.5H435.7" stroke="#ff640f" stroke-width="1.5"/>
<polygon points="421.7,200.9 426.6,204.8 424.7,211.0 418.7,211.0 416.8,204.8" fill="#ff640f"/>
<text transform="translate(438.2 211.0) scale(0.935 1)" font-size="12.2" fill="#222">K<tspan font-size="8.3" dy="3">1</tspan><tspan dy="-3">=0.5 K</tspan><tspan font-size="8.3" dy="3">2</tspan><tspan dy="-3">=2 LS</tspan><tspan font-size="8.3" font-weight="bold" dy="3.5">2-1</tspan></text>
<path d="M409.9 224.7H435.7" stroke="#3590dc" stroke-width="1.5"/>
<ellipse cx="421.7" cy="224.7" rx="4.7" ry="5.1" fill="url(#ball)"/>
<text transform="translate(438.2 229.2) scale(0.935 1)" font-size="12.2" fill="#222">K<tspan font-size="8.3" dy="3">1</tspan><tspan dy="-3">=0.5 K</tspan><tspan font-size="8.3" dy="3">2</tspan><tspan dy="-3">=2 HT</tspan><tspan font-size="8.3" font-weight="bold" dy="3.5">2-1</tspan></text>
<path d="M409.9 242.9H435.7" stroke="#2db814" stroke-width="1.5"/>
<path d="M421.7 238.0V247.8M417.1 242.9H426.3" stroke="#2db814" stroke-width="1.3" fill="none"/>
<text transform="translate(438.2 247.4) scale(0.935 1)" font-size="12.2" fill="#222">K<tspan font-size="8.3" dy="3">1</tspan><tspan dy="-3">=0.5 K</tspan><tspan font-size="8.3" dy="3">2</tspan><tspan dy="-3">=2 LT</tspan><tspan font-size="8.3" font-weight="bold" dy="3.5">2-1</tspan></text>
<path d="M409.9 261.1H435.7" stroke="#454545" stroke-width="1.5"/>
<path d="M417.0 256.0L426.4 266.2M417.0 266.2L426.4 256.0" stroke="#454545" stroke-width="1.3" fill="none"/>
<text transform="translate(438.2 265.6) scale(0.935 1)" font-size="12.2" fill="#222">K<tspan font-size="8.3" dy="3">1</tspan><tspan dy="-3">=1.5 K</tspan><tspan font-size="8.3" dy="3">2</tspan><tspan dy="-3">=1 LS</tspan><tspan font-size="8.3" font-weight="bold" dy="3.5">2-1</tspan></text>
<path d="M409.9 279.3H435.7" stroke="#ff3c3c" stroke-width="1.5"/>
<path d="M417.3 274.7L426.1 283.9M417.3 283.9L426.1 274.7M421.7 273.8V284.8" stroke="#ff3c3c" stroke-width="1.3" fill="none"/>
<text transform="translate(438.2 283.8) scale(0.935 1)" font-size="12.2" fill="#222">K<tspan font-size="8.3" dy="3">1</tspan><tspan dy="-3">=1.5 K</tspan><tspan font-size="8.3" dy="3">2</tspan><tspan dy="-3">=1 HT</tspan><tspan font-size="8.3" font-weight="bold" dy="3.5">2-1</tspan></text>
<path d="M409.9 297.5H435.7" stroke="#1473f0" stroke-width="1.5"/>
<text transform="translate(438.2 302.0) scale(0.935 1)" font-size="12.2" fill="#222">K<tspan font-size="8.3" dy="3">1</tspan><tspan dy="-3">=1.5 K</tspan><tspan font-size="8.3" dy="3">2</tspan><tspan dy="-3">=1 LT</tspan><tspan font-size="8.3" font-weight="bold" dy="3.5">2-1</tspan></text>
</svg></body></html>
